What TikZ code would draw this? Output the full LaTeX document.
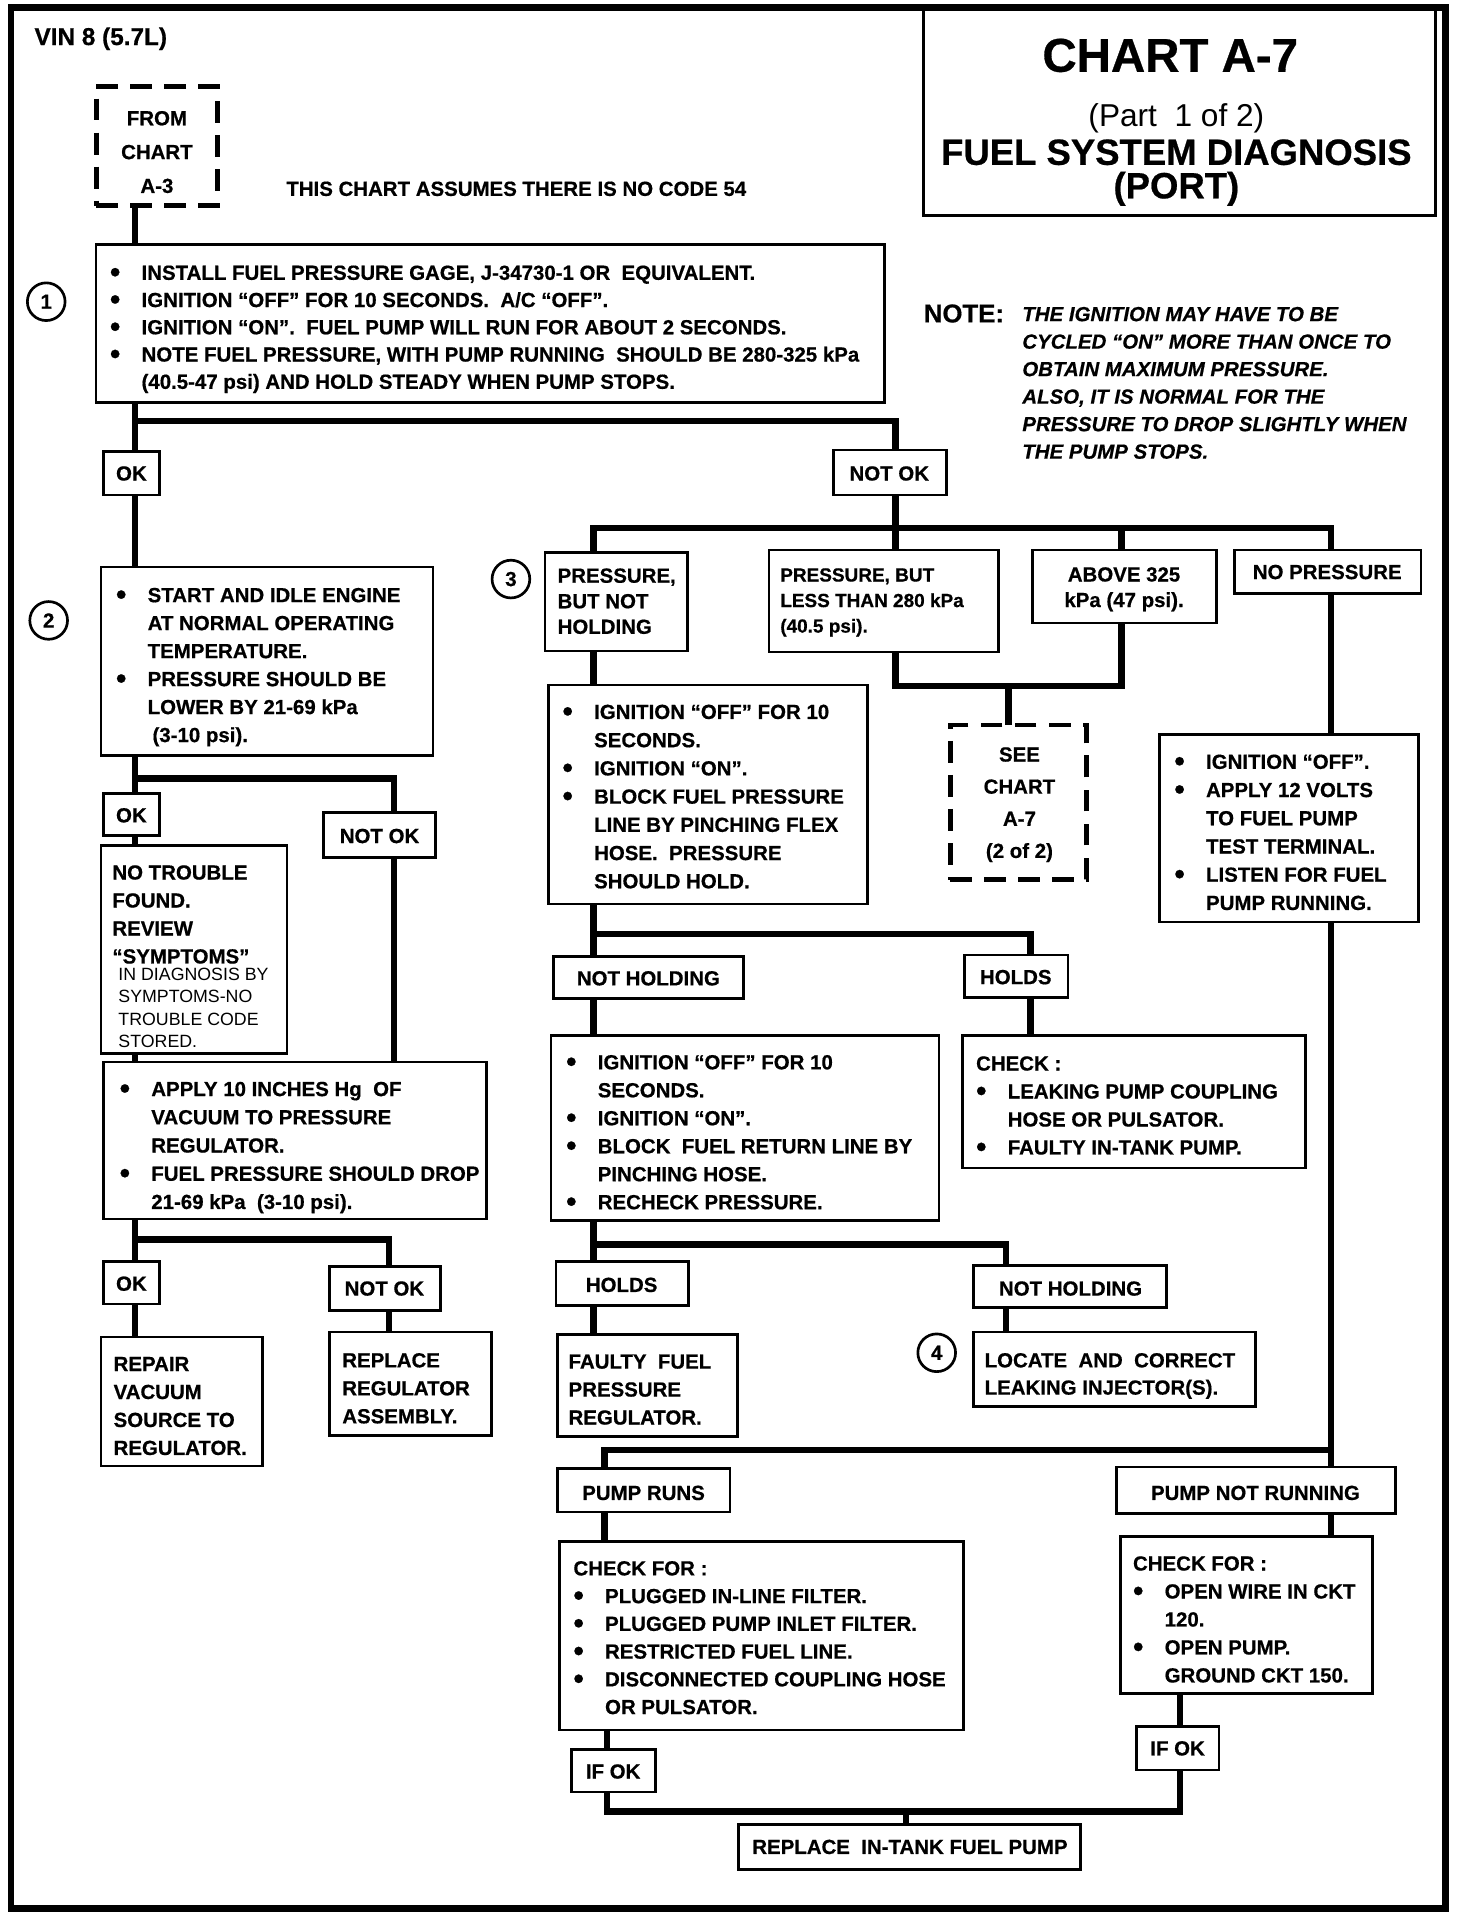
\documentclass[tikz,border=0pt]{standalone}
\usepackage{fontspec}
\setmainfont{Liberation Sans}[BoldFeatures={FakeBold=0.6},BoldItalicFeatures={FakeBold=0.6}]
\newfontfamily\smallfont{Liberation Sans}
\usetikzlibrary{fit,backgrounds}
\newlength\bw
\setlength\bw{13pt}
\newcommand\bl{\makebox[\bw][l]{\raisebox{-0.9pt}{\scalebox{1.45}{\textbullet}}}}
\newcommand\nb{\hspace*{\bw}}
\newcommand\myfs[2]{\fontsize{#1}{#2}\selectfont}
\newcommand\rows[1]{\begin{tabular}[t]{@{}l@{}}#1\end{tabular}}
\newcommand\crows[1]{\begin{tabular}[t]{@{}c@{}}#1\end{tabular}}
\begin{document}
\begin{tikzpicture}[x=0.5pt,y=-0.5pt,
  box/.style={draw, line width=1.1pt, fill=white, inner sep=0pt},
  dbox/.style={draw, line width=2pt, dash pattern=on 9pt off 5pt, fill=white, inner sep=0pt},
  conn/.style={line width=2.6pt, line cap=rect, line join=miter},
  txt/.style={inner sep=0pt, anchor=base west, font=\bfseries\myfs{8.4pt}{11.5pt}},
  lbl/.style={inner sep=0pt, anchor=base, font=\bfseries\myfs{8.4pt}{11.5pt}},
  circ/.style={draw, circle, line width=1.1pt, minimum size=15.5pt, inner sep=0pt, fill=white, font=\bfseries\myfs{8.4pt}{10pt}}]
\useasboundingbox (0,0) rectangle (1210,1575);
\draw[line width=2.7pt] (9,6) rectangle (1188,1569);

% header
\node[inner sep=0pt, anchor=base west, font=\bfseries\myfs{10pt}{12pt}] (vin) at (28,37) {VIN 8 (5.7L)};
\node[box, line width=1.4pt, fill=none, fit={(759,6) (1180,177)}] (title) {};
\node[inner sep=0pt, anchor=base, font=\bfseries\myfs{19.5pt}{20pt}] (tA) at (962,59) {CHART A-7};
\node[inner sep=0pt, anchor=base, font=\myfs{13pt}{14pt}] (tB) at (967,104) {(Part\ \ 1 of 2)};
\node[inner sep=0pt, anchor=base, font=\bfseries\myfs{15pt}{16pt}] (tC) at (967,135.5) {FUEL SYSTEM DIAGNOSIS};
\node[inner sep=0pt, anchor=base, font=\bfseries\myfs{15pt}{16pt}] (tD) at (967,163) {(PORT)};

\node[dbox, fit={(79,71) (179,169)}] (fromchart) {};
\node[lbl] (fromtxt) at (129,103) {\myfs{8.4pt}{13.9pt}\crows{FROM\\CHART\\A-3}};
\node[txt] (assume) at (235,161) {THIS CHART ASSUMES THERE IS NO CODE 54};

\node[inner sep=0pt, anchor=base west, font=\bfseries\myfs{10.6pt}{12pt}] (note) at (759,265) {NOTE:};
\node[txt, font=\bfseries\itshape\myfs{8.4pt}{11.3pt}] (notetext) at (840,264) {\rows{THE IGNITION MAY HAVE TO BE\\CYCLED “ON” MORE THAN ONCE TO\\OBTAIN MAXIMUM PRESSURE.\\ALSO, IT IS NORMAL FOR THE\\PRESSURE TO DROP SLIGHTLY WHEN\\THE PUMP STOPS.}};

% box 1
\node[box, fit={(79,201) (727,331)}] (b1) {};
\node[txt] (b1t) at (90,230) {\myfs{8.4pt}{11.2pt}\rows{\bl INSTALL FUEL PRESSURE GAGE, J-34730-1 OR\ \ EQUIVALENT.\\
\bl IGNITION “OFF” FOR 10 SECONDS.\ \ A/C “OFF”.\\
\bl IGNITION “ON”.\ \ FUEL PUMP WILL RUN FOR ABOUT 2 SECONDS.\\
\bl NOTE FUEL PRESSURE, WITH PUMP RUNNING\ \ SHOULD BE 280-325 kPa\\
\nb (40.5-47 psi) AND HOLD STEADY WHEN PUMP STOPS.}};
\node[circ] (c1) at (38,248) {1};

\node[box, fit={(85,371) (131,407)}] (ok1) {};
\node[lbl] (ok1t) at (108,395) {OK};
\node[box, fit={(685,370) (778,407)}] (nok1) {};
\node[lbl] (nok1t) at (731,395) {NOT OK};

% left column
\node[box, fit={(83,466) (356,621)}] (b2) {};
\node[txt] (b2t) at (95,495) {\myfs{8.4pt}{11.5pt}\rows{\bl START AND IDLE ENGINE\\
\nb AT NORMAL OPERATING\\
\nb TEMPERATURE.\\
\bl PRESSURE SHOULD BE\\
\nb LOWER BY 21-69 kPa\\
\nb\hspace{2pt}(3-10 psi).}};
\node[circ] (c2) at (40,510) {2};

\node[box, fit={(85,652) (131,687)}] (ok2) {};
\node[lbl] (ok2t) at (108,676) {OK};
\node[box, fit={(266,668) (358,705)}] (nok2) {};
\node[lbl] (nok2t) at (312,693) {NOT OK};

\node[box, fit={(83,695) (236,866)}] (ntf) {};
\node[txt] (ntft) at (92,723) {\myfs{8.4pt}{11.5pt}\rows{NO TROUBLE\\FOUND.\\REVIEW\\“SYMPTOMS”}};
\node[inner sep=0pt, anchor=base west] (ntfs) at (97,806) {\smallfont\myfs{7.3pt}{9.2pt}\rows{IN DIAGNOSIS BY\\SYMPTOMS-NO\\TROUBLE CODE\\STORED.}};

\node[box, fit={(85,873) (400,1002)}] (apply) {};
\node[txt] (applyt) at (98,901) {\myfs{8.4pt}{11.6pt}\rows{\bl APPLY 10 INCHES Hg\ \ OF\\
\nb VACUUM TO PRESSURE\\
\nb REGULATOR.\\
\bl FUEL PRESSURE SHOULD DROP\\
\nb 21-69 kPa\ \ (3-10 psi).}};

\node[box, fit={(85,1037) (131,1072)}] (ok3) {};
\node[lbl] (ok3t) at (108,1061) {OK};
\node[box, fit={(271,1041) (362,1077)}] (nok3) {};
\node[lbl] (nok3t) at (316,1065) {NOT OK};

\node[box, fit={(83,1099) (216,1205)}] (repair) {};
\node[txt] (repairt) at (93,1127) {\myfs{8.4pt}{11.5pt}\rows{REPAIR\\VACUUM\\SOURCE TO\\REGULATOR.}};
\node[box, fit={(271,1095) (404,1180)}] (replreg) {};
\node[txt] (replregt) at (281,1124) {\myfs{8.4pt}{11.5pt}\rows{REPLACE\\REGULATOR\\ASSEMBLY.}};

% pressure branches
\node[circ] (c3) at (420,476) {3};
\node[box, fit={(448,454) (565,535)}] (pbnh) {};
\node[txt] (pbnht) at (458,479) {\myfs{8.4pt}{10.5pt}\rows{PRESSURE,\\BUT NOT\\HOLDING}};
\node[box, fit={(632,452) (821,536)}] (pblt) {};
\node[txt] (pbltt) at (641,478) {\myfs{7.8pt}{10.5pt}\rows{PRESSURE, BUT\\LESS THAN 280 kPa\\(40.5 psi).}};
\node[box, fit={(849,452) (1000,512)}] (above) {};
\node[lbl] (abovet) at (924,478) {\myfs{8.4pt}{10.5pt}\crows{ABOVE 325\\kPa (47 psi).}};
\node[box, fit={(1015,452) (1168,488)}] (nopress) {};
\node[lbl] (nopresst) at (1091,476) {NO PRESSURE};

\node[dbox, fit={(781,596) (893,723)}] (see) {};
\node[lbl] (seet) at (838,626) {\myfs{8.4pt}{13.2pt}\crows{SEE\\CHART\\A-7\\(2 of 2)}};

\node[box, fit={(451,563) (713,743)}] (ign1) {};
\node[txt] (ign1t) at (462,591) {\myfs{8.4pt}{11.6pt}\rows{\bl IGNITION “OFF” FOR 10\\
\nb SECONDS.\\
\bl IGNITION “ON”.\\
\bl BLOCK FUEL PRESSURE\\
\nb LINE BY PINCHING FLEX\\
\nb HOSE.\ \ PRESSURE\\
\nb SHOULD HOLD.}};

\node[box, fit={(455,786) (611,821)}] (nh1) {};
\node[lbl] (nh1t) at (533,810) {NOT HOLDING};
\node[box, fit={(793,785) (878,820)}] (ho1) {};
\node[lbl] (ho1t) at (835,809) {HOLDS};

\node[box, fit={(453,851) (772,1003)}] (ign2) {};
\node[txt] (ign2t) at (465,879) {\myfs{8.4pt}{11.5pt}\rows{\bl IGNITION “OFF” FOR 10\\
\nb SECONDS.\\
\bl IGNITION “ON”.\\
\bl BLOCK\ \ FUEL RETURN LINE BY\\
\nb PINCHING HOSE.\\
\bl RECHECK PRESSURE.}};

\node[box, fit={(791,851) (1073,960)}] (check) {};
\node[txt] (checkt) at (802,880) {\myfs{8.4pt}{11.5pt}\rows{CHECK :\\
\bl LEAKING PUMP COUPLING\\
\nb HOSE OR PULSATOR.\\
\bl FAULTY IN-TANK PUMP.}};

\node[box, fit={(457,1037) (566,1073)}] (ho2) {};
\node[lbl] (ho2t) at (511,1062) {HOLDS};
\node[box, fit={(800,1040) (959,1075)}] (nh2) {};
\node[lbl] (nh2t) at (880,1065) {NOT HOLDING};

\node[box, fit={(458,1097) (606,1181)}] (faulty) {};
\node[txt] (faultyt) at (467,1125) {\myfs{8.4pt}{11.5pt}\rows{FAULTY\ \ FUEL\\PRESSURE\\REGULATOR.}};
\node[box, fit={(800,1095) (1032,1156)}] (locate) {};
\node[txt] (locatet) at (809,1124) {\myfs{8.4pt}{11.2pt}\rows{LOCATE\ \ AND\ \ CORRECT\\LEAKING INJECTOR(S).}};
\node[circ] (c4) at (770,1112) {4};

\node[box, fit={(953,604) (1166,758)}] (ign3) {};
\node[txt] (ign3t) at (965,632) {\myfs{8.4pt}{11.6pt}\rows{\bl IGNITION “OFF”.\\
\bl APPLY 12 VOLTS\\
\nb TO FUEL PUMP\\
\nb TEST TERMINAL.\\
\bl LISTEN FOR FUEL\\
\nb PUMP RUNNING.}};

\node[box, fit={(458,1207) (600,1243)}] (pr) {};
\node[lbl] (prt) at (529,1233) {PUMP RUNS};
\node[box, fit={(918,1206) (1147,1244)}] (pnr) {};
\node[lbl] (pnrt) at (1032,1233) {PUMP NOT RUNNING};

\node[box, fit={(460,1267) (792,1422)}] (cf1) {};
\node[txt] (cf1t) at (471,1295) {\myfs{8.4pt}{11.4pt}\rows{CHECK FOR :\\
\bl PLUGGED IN-LINE FILTER.\\
\bl PLUGGED PUMP INLET FILTER.\\
\bl RESTRICTED FUEL LINE.\\
\bl DISCONNECTED COUPLING HOSE\\
\nb OR PULSATOR.}};
\node[box, fit={(921,1263) (1128,1392)}] (cf2) {};
\node[txt] (cf2t) at (931,1291) {\myfs{8.4pt}{11.5pt}\rows{CHECK FOR :\\
\bl OPEN WIRE IN CKT\\
\nb 120.\\
\bl OPEN PUMP.\\
\nb GROUND CKT 150.}};

\node[box, fit={(470,1438) (539,1473)}] (ifok1) {};
\node[lbl] (ifok1t) at (504,1462) {IF OK};
\node[box, fit={(934,1419) (1002,1455)}] (ifok2) {};
\node[lbl] (ifok2t) at (968,1443) {IF OK};

\node[box, fit={(607,1500) (888,1537)}] (replace) {};
\node[lbl] (replacet) at (748,1524) {REPLACE\ \ IN-TANK FUEL PUMP};

% connector helpers
\coordinate (xL) at (111,0);
\coordinate (xN) at (736,0);
\coordinate (x324) at (324,0);
\coordinate (x320) at (320,0);
\coordinate (xP) at (488,0);
\coordinate (xAb) at (922,0);
\coordinate (xSee) at (829,0);
\coordinate (xR) at (1094,0);
\coordinate (xHo) at (847,0);
\coordinate (xNH) at (827,0);
\coordinate (xPR) at (497,0);
\coordinate (xIF1) at (499,0);
\coordinate (xIF2) at (970,0);
\coordinate (xRep) at (745,0);
\coordinate (j1) at (0,346);
\coordinate (j2) at (0,640);
\coordinate (j3) at (0,1019);
\coordinate (j4) at (0,434);
\coordinate (j5) at (0,564);
\coordinate (j6) at (0,768);
\coordinate (j7) at (0,1023);
\coordinate (j8) at (0,1192);
\coordinate (j9) at (0,1489);

\begin{scope}[on background layer]
\draw[conn] (fromchart.south -| xL) -- (b1.north -| xL);
\draw[conn] (b1.south -| xL) -- (ok1.north -| xL);
\draw[conn] (j1 -| xL) -- (j1 -| xN) -- (nok1.north -| xN);
\draw[conn] (ok1.south -| xL) -- (b2.north -| xL);
\draw[conn] (b2.south -| xL) -- (ok2.north -| xL);
\draw[conn] (j2 -| xL) -- (j2 -| x324) -- (nok2.north -| x324);
\draw[conn] (ok2.south -| xL) -- (ntf.north -| xL);
\draw[conn] (ntf.south -| xL) -- (apply.north -| xL);
\draw[conn] (nok2.south -| x324) -- (apply.north -| x324);
\draw[conn] (apply.south -| xL) -- (ok3.north -| xL);
\draw[conn] (j3 -| xL) -- (j3 -| x320) -- (nok3.north -| x320);
\draw[conn] (ok3.south -| xL) -- (repair.north -| xL);
\draw[conn] (nok3.south -| x320) -- (replreg.north -| x320);
\draw[conn] (nok1.south -| xN) -- (pblt.north -| xN);
\draw[conn] (pbnh.north -| xP) -- (j4 -| xP) -- (j4 -| xR) -- (nopress.north -| xR);
\draw[conn] (j4 -| xAb) -- (above.north -| xAb);
\draw[conn] (pblt.south -| xN) -- (j5 -| xN) -- (j5 -| xAb) -- (above.south -| xAb);
\draw[conn] (j5 -| xSee) -- (see.north -| xSee);
\draw[conn] (pbnh.south -| xP) -- (ign1.north -| xP);
\draw[conn] (ign1.south -| xP) -- (nh1.north -| xP);
\draw[conn] (j6 -| xP) -- (j6 -| xHo) -- (ho1.north -| xHo);
\draw[conn] (nh1.south -| xP) -- (ign2.north -| xP);
\draw[conn] (ho1.south -| xHo) -- (check.north -| xHo);
\draw[conn] (ign2.south -| xP) -- (ho2.north -| xP);
\draw[conn] (j7 -| xP) -- (j7 -| xNH) -- (nh2.north -| xNH);
\draw[conn] (ho2.south -| xP) -- (faulty.north -| xP);
\draw[conn] (nh2.south -| xNH) -- (locate.north -| xNH);
\draw[conn] (nopress.south -| xR) -- (ign3.north -| xR);
\draw[conn] (ign3.south -| xR) -- (pnr.north -| xR);
\draw[conn] (j8 -| xR) -- (j8 -| xPR) -- (pr.north -| xPR);
\draw[conn] (pr.south -| xPR) -- (cf1.north -| xPR);
\draw[conn] (pnr.south -| xR) -- (cf2.north -| xR);
\draw[conn] (cf1.south -| xIF1) -- (ifok1.north -| xIF1);
\draw[conn] (cf2.south -| xIF2) -- (ifok2.north -| xIF2);
\draw[conn] (ifok1.south -| xIF1) -- (j9 -| xIF1) -- (j9 -| xIF2) -- (ifok2.south -| xIF2);
\draw[conn] (j9 -| xRep) -- (replace.north -| xRep);
\end{scope}
\end{tikzpicture}
\end{document}
